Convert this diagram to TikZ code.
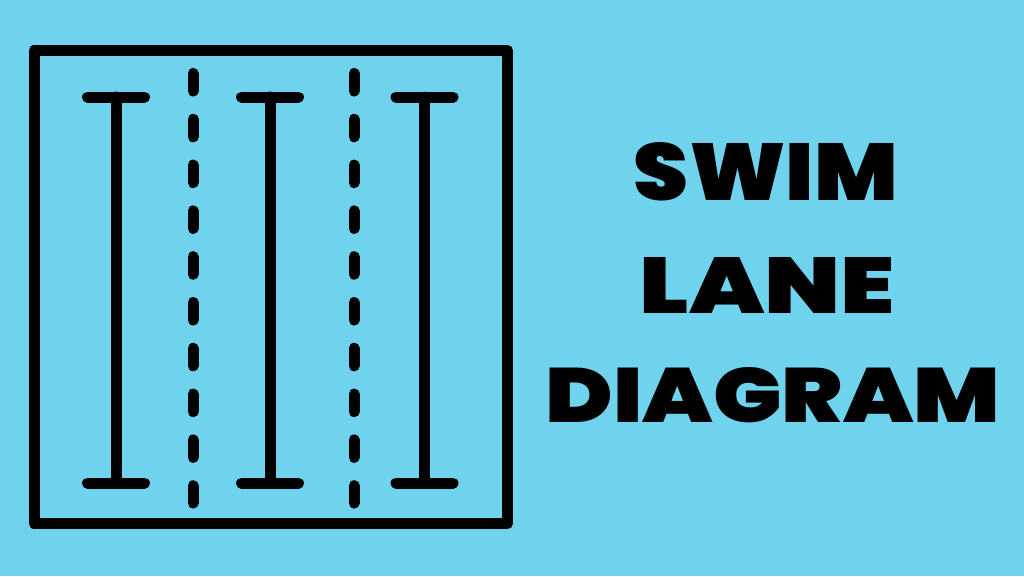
\documentclass[tikz,border=0pt]{standalone}
\usepackage{fontspec}
\newfontfamily\titlefont{Poppins Black}
\usepackage{graphicx}
\definecolor{bg}{RGB}{111,211,238}
\tikzset{
  frame/.style={line width=11pt, line join=round},
  beam/.style={line width=11pt, line cap=round},
  lanesep/.style={line width=11pt, line cap=round, dash pattern=on 17.5pt off 28.3pt},
  title/.style={inner sep=0pt, outer sep=0pt, font=\titlefont}
}
\begin{document}
\begin{tikzpicture}[x=1pt,y=-1pt]
\fill[bg] (0,0) rectangle (1024,576);
\useasboundingbox (0,0) rectangle (1024,576);
\draw[frame] (34,50.5) rectangle (507.5,523.5);
% I-beams
\foreach \n/\x in {a/116,b/270,c/424.5}{
  \coordinate (\n t) at (\x,97);
  \coordinate (\n b) at (\x,483);
  \coordinate (\n tl) at (\x-28.5,97);
  \coordinate (\n tr) at (\x+28.5,97);
  \coordinate (\n bl) at (\x-28.5,483);
  \coordinate (\n br) at (\x+28.5,483);
  \draw[beam] (\n t) -- (\n b);
  \draw[beam] (\n tl) -- (\n tr);
  \draw[beam] (\n bl) -- (\n br);
}
% dashed separators
\foreach \n/\x in {d/193,e/354}{
  \coordinate (\n t) at (\x,73.5);
  \coordinate (\n b) at (\x,503);
  \draw[lanesep] (\n t) -- (\n b);
}
\node[title] (swim) at (766,172) {\resizebox{264pt}{58pt}{SWIM}};
\node[title] (lane) at (767.5,285) {\resizebox{255pt}{56pt}{LANE}};
\node[title] (diag) at (773,395.5) {\resizebox{454pt}{55pt}{DIAGRAM}};
\end{tikzpicture}
\end{document}
